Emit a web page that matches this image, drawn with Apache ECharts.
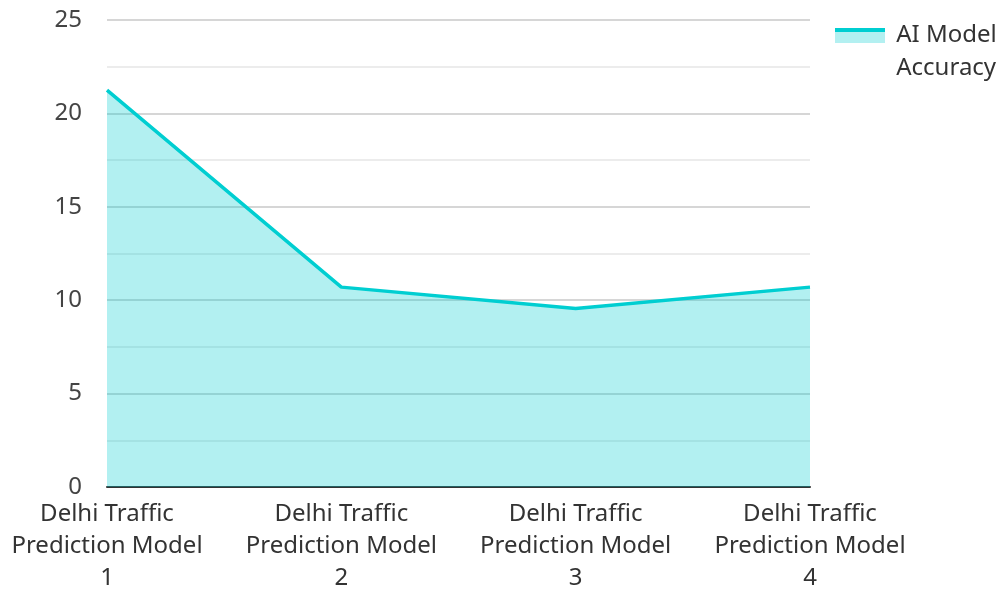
<!DOCTYPE html>
<html>
<head>
<meta charset="utf-8">
<script src="https://cdn.jsdelivr.net/npm/echarts@6/dist/echarts.min.js"></script>
<style>
  html, body { margin: 0; padding: 0; background: #fff; }
  #chart { width: 1000px; height: 589px; }
</style>
</head>
<body>
<div id="chart"></div>
<script>
// categories and values
var categories = [
  'Delhi Traffic\nPrediction Model\n1',
  'Delhi Traffic\nPrediction Model\n2',
  'Delhi Traffic\nPrediction Model\n3',
  'Delhi Traffic\nPrediction Model\n4'
]
var seriesName = 'AI Model Accuracy'
var accuracy = [21.25, 10.7, 9.55, 10.7]

var font = '"Noto Sans", "Open Sans", sans-serif'
var lineColor = '#00ced1'
var fillColor = '#b3f0f1'
var chart = echarts.init(document.getElementById('chart'))

chart.setOption({
  animation: false,
  grid: { left: 107, right: 190, top: 20, bottom: 102, containLabel: false, outerBoundsMode: 'none' },
  legend: {
    data: [seriesName],
    left: 835,
    top: -14,
    padding: 0,
    icon: 'rect',
    itemWidth: 50,
    itemHeight: 15,
    itemStyle: {
      color: new echarts.graphic.LinearGradient(0, 0, 0, 1, [
        { offset: 0, color: lineColor },
        { offset: 0.27, color: lineColor },
        { offset: 0.27, color: fillColor },
        { offset: 1, color: fillColor }
      ])
    },
    // leading blank line keeps the icon level with the first text line
    formatter: function() { return '\n AI Model\n Accuracy' },
    textStyle: { fontFamily: font, fontSize: 24, color: '#333', lineHeight: 33 }
  },
  xAxis: {
    type: 'category',
    data: categories,
    boundaryGap: false,
    axisLine: { lineStyle: { color: '#333', width: 2 } },
    axisTick: { show: false },
    axisLabel: {
      fontFamily: font,
      fontSize: 24,
      color: '#333',
      lineHeight: 32,
      margin: 11,
      interval: 0
    }
  },
  yAxis: {
    type: 'value',
    min: 0,
    max: 25,
    interval: 5,
    axisLine: { show: false },
    axisTick: { show: false },
    axisLabel: { fontFamily: font, fontSize: 24, color: '#444', margin: 25 },
    splitLine: { lineStyle: { color: '#c8c8c8', width: 1.5 } },
    minorTick: { show: false, splitNumber: 2 },
    minorSplitLine: { show: true, lineStyle: { color: '#e6e6e6', width: 1.5 } }
  },
  series: [{
    name: seriesName,
    type: 'line',
    data: accuracy,
    symbol: 'none',
    lineStyle: { color: lineColor, width: 3.5 },
    itemStyle: { color: lineColor },
    areaStyle: { color: lineColor, opacity: 0.3 },
    z: 1
  }]
})
</script>
</body>
</html>
